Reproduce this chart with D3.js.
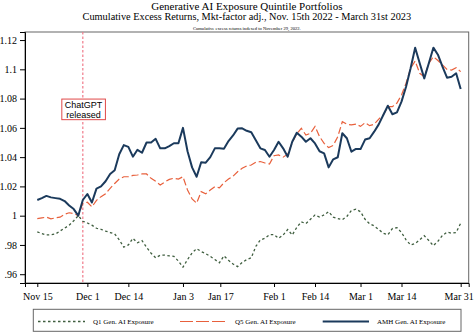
<!DOCTYPE html>
<html><head><meta charset="utf-8">
<script src="https://cdn.jsdelivr.net/npm/d3@7"></script>
<style>body{margin:0;background:#fff}svg{display:block}</style>
</head><body>
<svg id="c" width="474" height="333"></svg>
<script>
// ---- data (trading-day index 0 = Nov 15 2022 ... 93 = Mar 31 2023) ----
const amh = [1.0107,1.0120,1.0135,1.0125,1.0120,1.0115,1.0100,1.0070,1.0045,1.0000,
1.0107,1.0148,1.0090,1.0185,1.0200,1.0235,1.0285,1.0310,1.0420,1.0482,
1.0470,1.0403,1.0450,1.0430,1.0500,1.0500,1.0525,1.0460,1.0460,1.0475,
1.0495,1.0495,1.0600,1.0440,1.0330,1.0266,1.0365,1.0362,1.0400,1.0460,
1.0460,1.0458,1.0510,1.0548,1.0595,1.0597,1.0580,1.0570,1.0515,1.0460,
1.0449,1.0403,1.0449,1.0505,1.0460,1.0403,1.0505,1.0567,1.0540,1.0505,
1.0529,1.0494,1.0440,1.0426,1.0330,1.0385,1.0399,1.0563,1.0529,1.0437,
1.0456,1.0455,1.0520,1.0529,1.0574,1.0624,1.0688,1.0751,1.0693,1.0706,
1.0779,1.0881,1.1007,1.1148,1.1041,1.0938,1.1041,1.1148,1.1100,1.1018,
1.0943,1.0949,1.0973,1.0865];
const q5 = [0.9980,0.9985,0.9990,0.9978,0.9985,0.9990,1.0010,1.0020,1.0015,1.0000,
1.0085,1.0092,1.0060,1.0105,1.0130,1.0150,1.0187,1.0220,1.0250,1.0266,
1.0266,1.0275,1.0278,1.0285,1.0285,1.0255,1.0235,1.0210,1.0230,1.0248,
1.0256,1.0250,1.0266,1.0175,1.0115,1.0085,1.0164,1.0150,1.0175,1.0198,
1.0190,1.0225,1.0250,1.0270,1.0300,1.0324,1.0340,1.0346,1.0365,1.0370,
1.0360,1.0353,1.0410,1.0415,1.0400,1.0420,1.0500,1.0560,1.0597,1.0551,
1.0563,1.0610,1.0540,1.0494,1.0465,1.0480,1.0540,1.0642,1.0625,1.0620,
1.0626,1.0610,1.0635,1.0615,1.0625,1.0660,1.0688,1.0745,1.0745,1.0770,
1.0825,1.0905,1.1007,1.1057,1.0973,1.0949,1.1041,1.1086,1.1060,1.1030,
1.1000,1.0995,1.1011,1.0984];
const q1 = [0.9890,0.9877,0.9868,0.9870,0.9875,0.9895,0.9915,0.9935,0.9965,1.0000,
0.9962,0.9950,0.9935,0.9914,0.9907,0.9895,0.9885,0.9875,0.9835,0.9785,
0.9800,0.9845,0.9815,0.9830,0.9784,0.9743,0.9712,0.9730,0.9730,0.9725,
0.9722,0.9690,0.9648,0.9700,0.9745,0.9775,0.9755,0.9740,0.9722,0.9700,
0.9678,0.9725,0.9695,0.9670,0.9652,0.9680,0.9700,0.9712,0.9790,0.9834,
0.9846,0.9870,0.9870,0.9845,0.9868,0.9905,0.9868,0.9920,0.9958,0.9946,
0.9975,1.0005,0.9990,1.0005,1.0027,0.9990,0.9980,0.9972,0.9995,1.0035,
1.0045,1.0027,0.9975,0.9945,0.9930,0.9905,0.9880,0.9870,0.9912,0.9918,
0.9885,0.9835,0.9800,0.9810,0.9835,0.9863,0.9830,0.9795,0.9825,0.9865,
0.9888,0.9880,0.9885,0.9948];
const xTickPos = [0,11,20,32,40.2,52,61,71,80,93];
const xTickLabels = ["Nov 15","Dec 1","Dec 14","Jan 3","Jan 17","Feb 1","Feb 14","Mar 1","Mar 14","Mar 31"];
const yTickVals = [0.96,0.98,1.00,1.02,1.04,1.06,1.08,1.10,1.12];
const yTickLabels = [".96",".98","1","1.02","1.04","1.06","1.08","1.1","1.12"];
const releaseIdx = 10;
const seriesNames = ["Q1 Gen. AI Exposure","Q5 Gen. AI Exposure","AMH Gen. AI Exposure"];

// ---- layout ----
const svg = d3.select("#c");
const L=25, R=468.7, T=32, B=283;
const x = d3.scaleLinear().domain([-2.7,94.76]).range([L,R]);
const y = d3.scaleLinear().domain([0.954,1.1255]).range([B,T]);
const serif = "'Liberation Serif','Times New Roman',serif";
const C_Q1="#3f5e3f", C_Q5="#e8603c", C_AMH="#1b3a5c";

// titles
const cx = (L+R)/2;
svg.append("text").attr("x",cx).attr("y",9.5).attr("text-anchor","middle")
  .attr("font-family",serif).attr("font-size",11).text("Generative AI Exposure Quintile Portfolios");
svg.append("text").attr("x",cx).attr("y",19.5).attr("text-anchor","middle")
  .attr("font-family",serif).attr("font-size",10.3).text("Cumulative Excess Returns, Mkt-factor adj., Nov. 15th 2022 - March 31st 2023");
svg.append("text").attr("x",cx).attr("y",29.5).attr("text-anchor","middle")
  .attr("font-family",serif).attr("font-size",4.6).text("Cumulative excess returns indexed to November 29, 2022.");

// plot frame
svg.append("rect").attr("x",L).attr("y",T).attr("width",R-L).attr("height",B-T)
  .attr("fill","none").attr("stroke","#666").attr("stroke-width",1);

// axes
const yAxis = d3.axisLeft(y).tickValues(yTickVals).tickSize(5).tickPadding(3)
  .tickFormat((d,i)=>yTickLabels[i]);
const gy = svg.append("g").attr("transform",`translate(${L},0)`).call(yAxis);
gy.select(".domain").attr("stroke","#000");
gy.selectAll("text").attr("font-family",serif).attr("font-size",10).attr("fill","#000");

const xAxis = d3.axisBottom(x).tickValues(xTickPos).tickSize(4).tickPadding(6)
  .tickFormat((d,i)=>xTickLabels[i]);
const gx = svg.append("g").attr("transform",`translate(0,${B})`).call(xAxis);
gx.select(".domain").attr("stroke","#000");
gx.selectAll("text").attr("font-family",serif).attr("font-size",10).attr("fill","#000")
  .attr("dx",(d,i)=> i===xTickPos.length-1 ? -2 : 0);

// ChatGPT release line
svg.append("line").attr("x1",x(releaseIdx)).attr("x2",x(releaseIdx)).attr("y1",T).attr("y2",B)
  .attr("stroke","#f07a8a").attr("stroke-width",1.2).attr("stroke-dasharray","2.5,2");

// lines
const line = d3.line().x((d,i)=>x(i)).y(d=>y(d));
svg.append("path").datum(q1).attr("d",line).attr("fill","none").attr("stroke",C_Q1)
  .attr("stroke-width",1.3).attr("stroke-dasharray","2.5,2.5");
svg.append("path").datum(q5).attr("d",line).attr("fill","none").attr("stroke",C_Q5)
  .attr("stroke-width",1.2).attr("stroke-dasharray","7,3");
svg.append("path").datum(amh).attr("d",line).attr("fill","none").attr("stroke",C_AMH)
  .attr("stroke-width",2).attr("stroke-linejoin","round");

// ChatGPT label box
const bx = x(releaseIdx), by = y(1.0725);
svg.append("rect").attr("x",bx-21).attr("y",by-10.5).attr("width",43.6).attr("height",20.6)
  .attr("fill","#fff").attr("stroke","#e04848").attr("stroke-width",1);
svg.append("text").attr("x",bx+0.8).attr("y",by-1.8).attr("text-anchor","middle")
  .attr("font-family","'Liberation Sans',Arial,sans-serif").attr("font-size",9).text("ChatGPT");
svg.append("text").attr("x",bx+0.8).attr("y",by+8.0).attr("text-anchor","middle")
  .attr("font-family","'Liberation Sans',Arial,sans-serif").attr("font-size",9).text("released");

// legend
svg.append("rect").attr("x",33.3).attr("y",309.3).attr("width",427.7).attr("height",22)
  .attr("fill","#fff").attr("stroke","#666").attr("stroke-width",1);
const leg = [
  {name:seriesNames[0], c:C_Q1, w:1.3, dash:"2.5,2.5", x0:38, x1:85, tx:93},
  {name:seriesNames[1], c:C_Q5, w:1.2, dash:"13,3", x0:180, x1:225, tx:235},
  {name:seriesNames[2], c:C_AMH, w:2, dash:null, x0:322.7, x1:369, tx:377}
];
leg.forEach(d=>{
  const l = svg.append("line").attr("x1",d.x0).attr("x2",d.x1).attr("y1",321.5).attr("y2",321.5)
    .attr("stroke",d.c).attr("stroke-width",d.w);
  if(d.dash) l.attr("stroke-dasharray",d.dash);
  svg.append("text").attr("x",d.tx).attr("y",324).attr("font-family",serif)
    .attr("font-size",7).text(d.name);
});
</script>
</body></html>
